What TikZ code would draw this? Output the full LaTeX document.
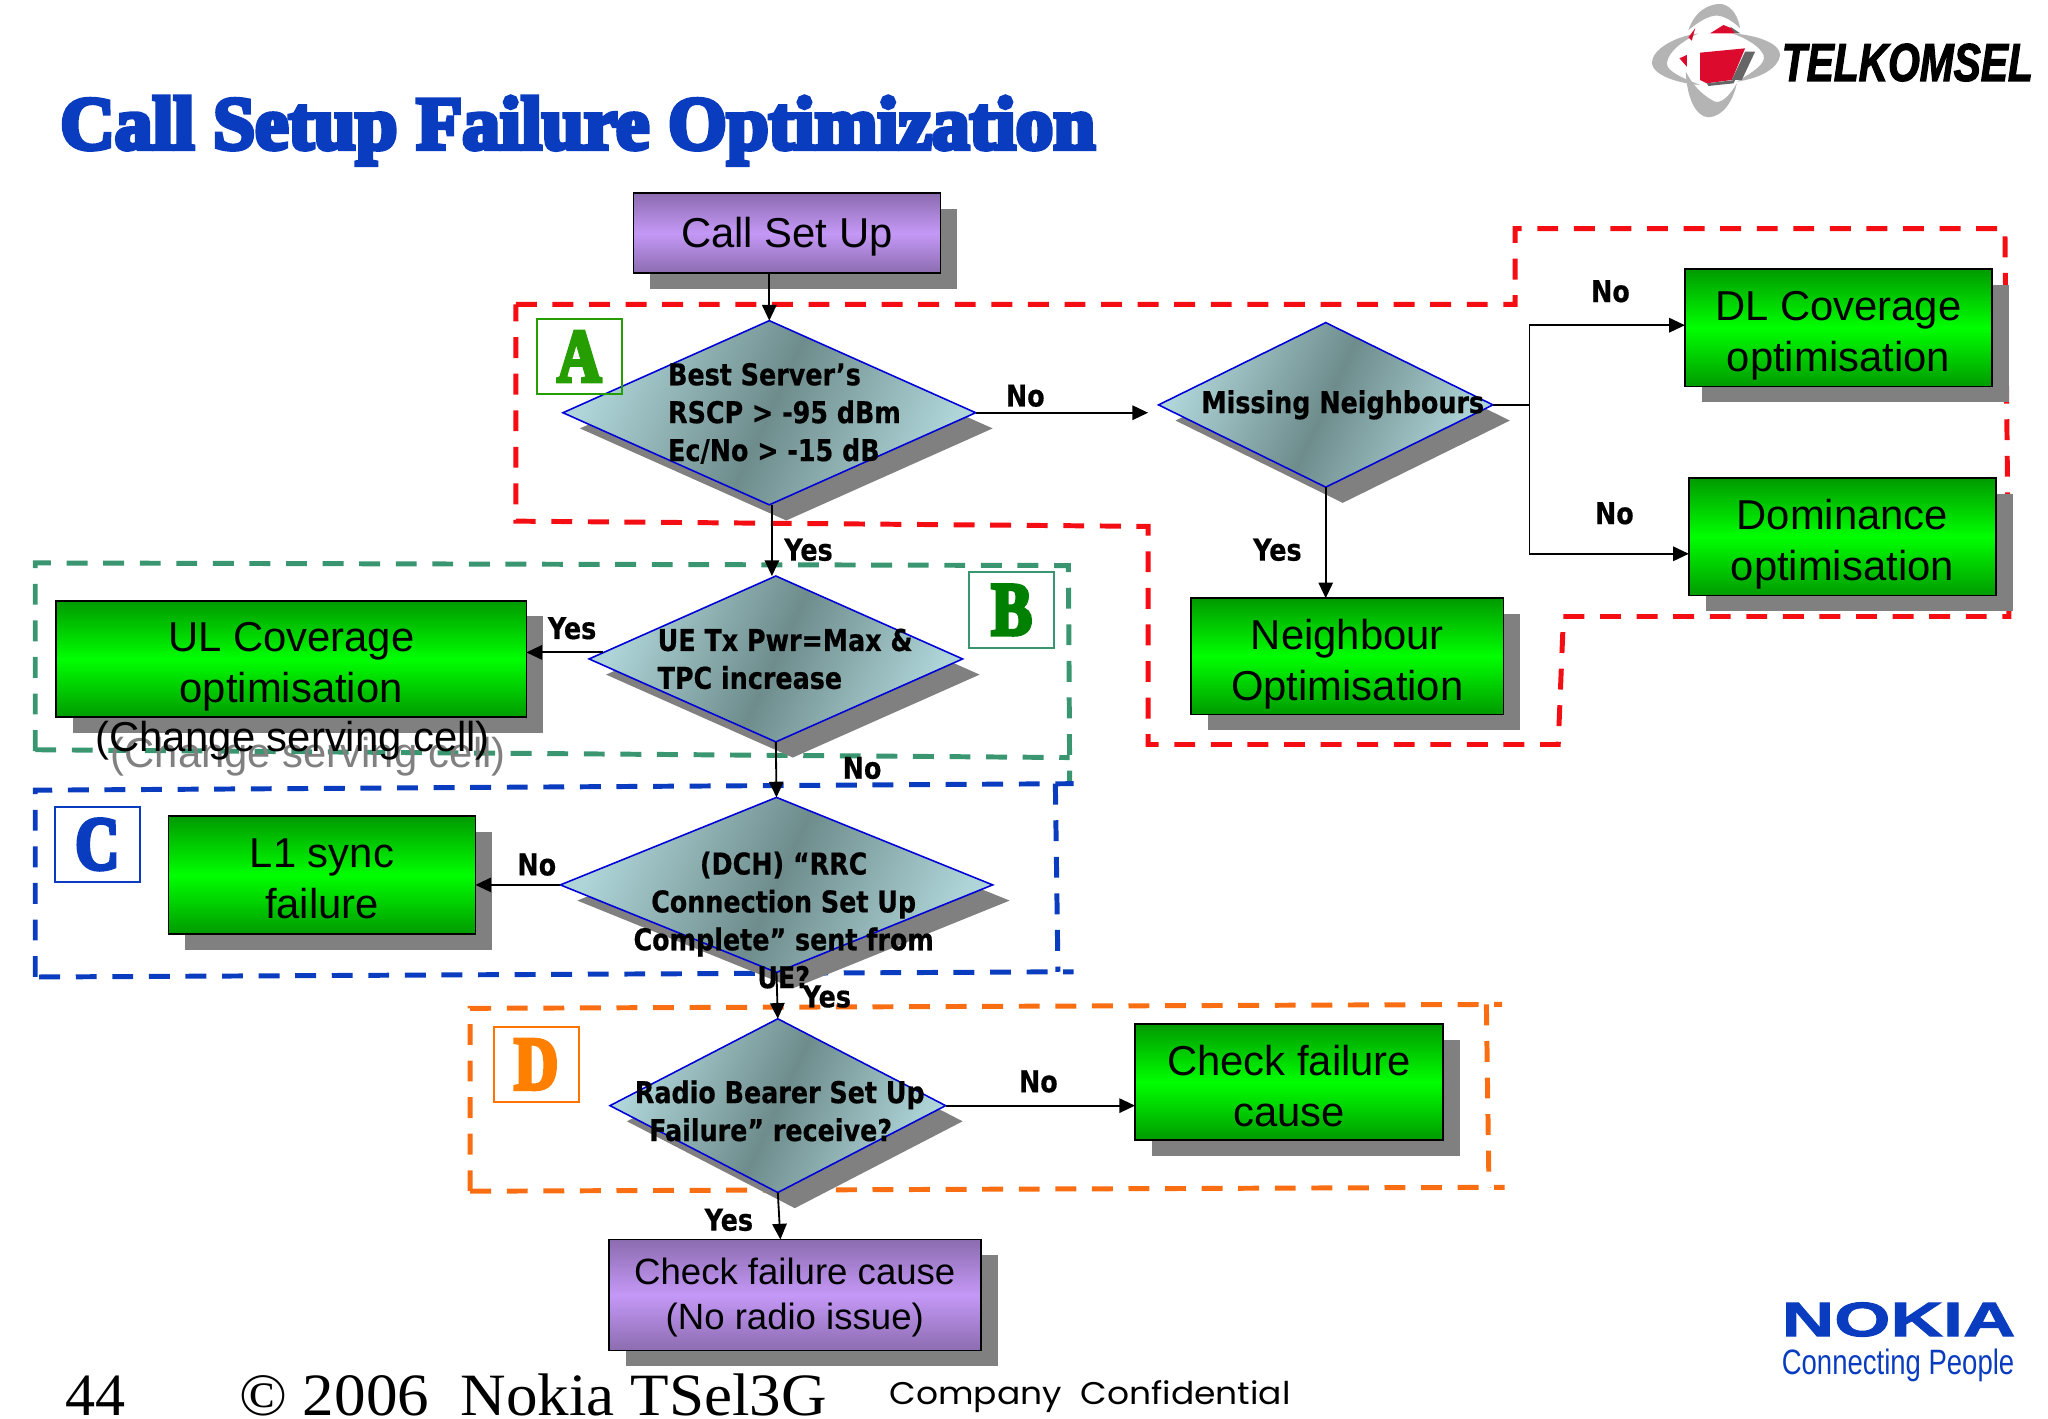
\documentclass[tikz,border=0pt]{standalone}
\usepackage{fontspec}
\setmainfont{Liberation Serif}
\setsansfont{Liberation Sans}
\newfontfamily\titlefont[BoldFeatures={FakeBold=6}]{Liberation Serif}
\newfontfamily\askfont[BoldFeatures={FakeStretch=0.845,FakeBold=0.5}]{DejaVu Sans}
\newfontfamily\iconfont[BoldFeatures={FakeBold=5,FakeStretch=0.8}]{Liberation Serif}
\newfontfamily\footfont[FakeStretch=1.05]{Liberation Serif}
\newfontfamily\telkomfont[BoldItalicFeatures={FakeStretch=0.76,FakeBold=2}]{Liberation Sans}
\newfontfamily\nokiafont[BoldFeatures={FakeStretch=1.5,FakeBold=2}]{Liberation Sans}
\newfontfamily\peoplefont[FakeStretch=0.78]{Liberation Sans}
\newfontfamily\conffont[FakeStretch=1.1]{Poppins}
\usepackage{tikz}
\usetikzlibrary{arrows.meta,shapes.geometric,shadows}

\definecolor{nokiablue}{HTML}{0A3CC0}
\definecolor{shadowgrey}{HTML}{808080}
\definecolor{greenedge}{HTML}{009A00}
\definecolor{purpleedge}{HTML}{8C6CB0}
\definecolor{purplemid}{HTML}{C498F6}
\definecolor{asklight}{HTML}{AFD5D8}
\definecolor{askdark}{HTML}{6E8C8C}
\definecolor{zonered}{HTML}{F50D14}
\definecolor{zonegreen}{HTML}{3A9670}
\definecolor{zoneorange}{HTML}{F96E12}
\definecolor{logogrey}{HTML}{B4B4B4}
\definecolor{logored}{HTML}{DC0A2D}

\newcommand{\lowered}[1]{\rule{0pt}{#1}}

\tikzset{
  boxshadow/.style={general shadow={shadow xshift=13pt,shadow yshift=-12pt,fill=shadowgrey}},
  resultbox/.style={boxshadow,rectangle,draw=black,line width=1.3pt,inner sep=0pt,outer sep=0pt,
    top color=greenedge,bottom color=greenedge,middle color=green,align=center,
    font=\sffamily\fontsize{32}{39}\selectfont},
  endbox/.style={resultbox,top color=purpleedge,bottom color=purpleedge,middle color=purplemid},
  ask/.style={boxshadow,diamond,draw=blue!85!black,line width=1.2pt,inner sep=0pt,outer sep=0pt,
    shading=axis,left color=asklight,right color=asklight,middle color=askdark,shading angle=65},
  asktext/.style={align=left,font=\askfont\bfseries\fontsize{23}{29}\selectfont},
  answer/.style={font=\askfont\bfseries\fontsize{23}{28}\selectfont},
  flow/.style={line width=1.4pt,-{Triangle[length=12pt,width=11pt]}},
  zone/.style={line width=3.8pt,dash pattern=on 16pt off 12pt},
  tag/.style={rectangle,line width=1.5pt,inner sep=0pt,minimum width=65pt,minimum height=58pt,
    font=\iconfont\bfseries\fontsize{58}{58}\selectfont}
}

\begin{document}
\begin{tikzpicture}[x=1pt,y=-1pt]
\useasboundingbox (0,0) rectangle (1568,1086);

\node[anchor=base west,inner sep=0pt,text=nokiablue,font=\titlefont\bfseries\fontsize{57.7}{60}\selectfont] (title) at (46,114) {Call Setup Failure Optimization};

\draw[zone,zonered] (395,233) -- (1160,233) -- (1160,175) -- (1535,175) -- (1538,472) -- (1197,472) -- (1193,570) -- (879,570) -- (879,403) -- (395,399) -- cycle;
\draw[zone,zonegreen] (27,575) -- (27,431) -- (818,433) -- (819,600);
\draw[zone,zonegreen] (27,574) -- (819,580);
\draw[zone,nokiablue] (27,748) -- (27,605) -- (822,600);
\draw[zone,nokiablue] (808,600) -- (810,744);
\draw[zone,nokiablue] (30,748) -- (822,744);
\draw[zone,zoneorange] (360,912) -- (360,772) -- (1150,769);
\draw[zone,zoneorange] (1138,769) -- (1140,909);
\draw[zone,zoneorange] (360,912) -- (1152,909);

\node[endbox,minimum width=235pt,minimum height=61pt,font=\sffamily\fontsize{32}{39}\selectfont] (callsetup) at (602.5,178.5) {\lowered{28pt}Call Set Up};
\node[resultbox,minimum width=235pt,minimum height=90pt] (dlcov) at (1407.5,251) {\lowered{35pt}DL Coverage\\optimisation};
\node[resultbox,minimum width=235pt,minimum height=90pt] (dominance) at (1410.5,411) {\lowered{35pt}Dominance\\optimisation};
\node[resultbox,minimum width=239pt,minimum height=89pt] (neighbour) at (1031.5,502.5) {\lowered{35pt}Neighbour\\Optimisation};
\node[resultbox,minimum width=360pt,minimum height=89pt] (ulcov) at (223,504.5) {\lowered{34pt}UL Coverage\\optimisation};
\node[resultbox,minimum width=235pt,minimum height=90pt] (lonesync) at (246.5,670) {\lowered{28pt}L1 sync\\failure};
\node[resultbox,minimum width=236pt,minimum height=89pt] (checkcause) at (987,828.5) {\lowered{29pt}Check failure\\cause};
\node[endbox,minimum width=285pt,minimum height=85pt,font=\sffamily\fontsize{28}{34}\selectfont] (noradio) at (608.5,991.5) {\lowered{24pt}Check failure cause\\(No radio issue)};

\node[ask,minimum width=316pt,minimum height=141pt] (bestserver) at (589,316) {};
\node[ask,minimum width=256pt,minimum height=126pt] (missing) at (1015,310) {};
\node[ask,minimum width=286pt,minimum height=127pt] (uetx) at (594,504.5) {};
\node[ask,minimum width=331pt,minimum height=134pt] (rrc) at (594.5,677.5) {};
\node[ask,minimum width=257pt,minimum height=133pt] (radio) at (595.5,846.5) {};

\coordinate (missingin) at (879,316);
\coordinate (fork) at (1171,310);

\draw[flow] (callsetup.south -| bestserver.north) -- (bestserver.north);
\draw[flow] ([xshift=2pt]bestserver.south) -- ([xshift=-3pt]uetx.north);
\draw[flow] (bestserver.east) -- (missingin);
\draw[flow] (missing.south) -- (neighbour.north -| missing.south);
\draw[line width=1.4pt] (missing.east) -- (fork);
\draw[flow] (fork) |- ([yshift=2pt]dlcov.west);
\draw[flow] (fork) |- ([yshift=-13pt]dominance.west);
\draw[flow] ([xshift=11pt,yshift=5pt]uetx.west) -- ([yshift=5pt]uetx.west -| ulcov.east);
\draw[flow] (uetx.south) -- (rrc.north);
\draw[flow] (rrc.west) -- (rrc.west -| lonesync.east);
\draw[flow] (rrc.south) -- (radio.north);
\draw[flow] (radio.east) -- (radio.east -| checkcause.west);
\draw[flow] (radio.south) -- ([xshift=-11pt]noradio.north);

\node[tag,draw=green!55!black!85!yellow,text=green!55!black!85!yellow] (taga) at (443.5,273) {A};
\node[tag,draw=zonegreen,text=green!50!black] (tagb) at (774.5,467) {B};
\node[tag,draw=nokiablue,text=nokiablue] (tagc) at (74.5,646.5) {C};
\node[tag,draw=orange!90!red,text=orange] (tagd) at (410.5,815) {D};

\node[asktext,anchor=west] (bestservertext) at (508,316.5) {Best Server’s\\RSCP > -95 dBm\\Ec/No > -15 dB};
\node[asktext] (missingtext) at (1028,310) {Missing Neighbours};
\node[asktext,anchor=west] (uetxtext) at (500,504.5) {UE Tx Pwr=Max \&\\TPC increase};
\node[asktext,align=center] (rrctext) at (600,704.5) {(DCH) “RRC\\Connection Set Up\\Complete” sent from\\UE?};
\node[asktext,align=center] (radiotext) at (597,850.5) {Radio Bearer Set Up\\Failure” receive?\hspace*{14pt}};

\node[answer] (noa) at (785,303) {No};
\node[answer] (yesa) at (619,421) {Yes};
\node[answer] (nob) at (1233,223) {No};
\node[answer] (noc) at (1236,393) {No};
\node[answer] (yesb) at (978,421) {Yes};
\node[answer] (yesc) at (438,481) {Yes};
\node[answer] (nod) at (660,588) {No};
\node[answer] (noe) at (411,662) {No};
\node[answer] (yesd) at (633,763) {Yes};
\node[answer] (nof) at (795,828) {No};
\node[answer] (yese) at (558,934) {Yes};

\node[text=shadowgrey,font=\sffamily\fontsize{32}{39}\selectfont] (cellshadow) at (236,579) {(Change serving cell)};
\node[font=\sffamily\fontsize{32}{39}\selectfont] (cell) at (224,567) {(Change serving cell)};

\node[anchor=base west,inner sep=0pt,font=\fontsize{46}{50}\selectfont] (pagenum) at (50,1084) {44};
\node[anchor=base west,inner sep=0pt,font=\footfont\fontsize{46}{50}\selectfont] (copyright) at (183,1084) {© 2006\ \ Nokia TSel3G};
\node[anchor=base west,inner sep=0pt,font=\conffont\fontsize{24}{26}\selectfont] (confidential) at (681,1075) {Company\ \ Confidential};

\node[anchor=base west,inner sep=0pt,text=nokiablue,font=\nokiafont\bfseries\fontsize{37}{40}\selectfont] (nokia) at (1364,1023) {NOKIA};
\node[anchor=base west,inner sep=0pt,text=nokiablue,font=\peoplefont\fontsize{27}{30}\selectfont] (people) at (1364,1052) {Connecting People};

\begin{scope}[shift={(1240.4,0)},scale=0.2552]
\fill[logogrey] (205,90) .. controls (225,30) and (270,10) .. (305,12) .. controls (340,20) and (355,55) .. (360,85) .. controls (340,65) and (310,45) .. (285,47) .. controls (255,50) and (225,75) .. (205,90) -- cycle;
\fill[logogrey] (197,215) .. controls (200,290) and (225,350) .. (265,352) .. controls (310,350) and (340,300) .. (350,250) .. controls (330,285) and (300,320) .. (275,300) .. controls (240,280) and (215,250) .. (197,215) -- cycle;
\fill[logogrey] (235,100) .. controls (160,110) and (95,150) .. (95,190) .. controls (100,225) and (170,250) .. (240,255) .. controls (190,235) and (140,215) .. (140,190) .. controls (145,150) and (195,120) .. (235,100) -- cycle;
\fill[logogrey] (335,100) .. controls (410,105) and (480,130) .. (480,165) .. controls (475,205) and (420,235) .. (350,245) .. controls (400,215) and (440,190) .. (430,165) .. controls (420,140) and (380,115) .. (335,100) -- cycle;
\fill[logored] (240,158) -- (375,145) -- (335,240) -- (260,250) -- (240,240) -- cycle;
\fill[black!60] (375,155) -- (405,155) -- (365,240) -- (335,240) -- cycle;
\fill[black!60] (260,250) -- (345,240) -- (340,250) -- (265,258) -- cycle;
\fill[logored] (270,100) -- (310,75) -- (335,85) -- (345,100) -- cycle;
\fill[black!60] (330,80) -- (360,100) -- (345,100) -- cycle;
\fill[logored] (205,112) -- (225,85) -- (215,122) -- cycle;
\fill[logored] (178,175) -- (200,165) -- (200,200) -- cycle;
\end{scope}
\node[anchor=base west,inner sep=0pt,font=\telkomfont\bfseries\itshape\fontsize{41}{44}\selectfont] (telkomsel) at (1364,62) {TELKOMSEL};
\end{tikzpicture}
\end{document}
